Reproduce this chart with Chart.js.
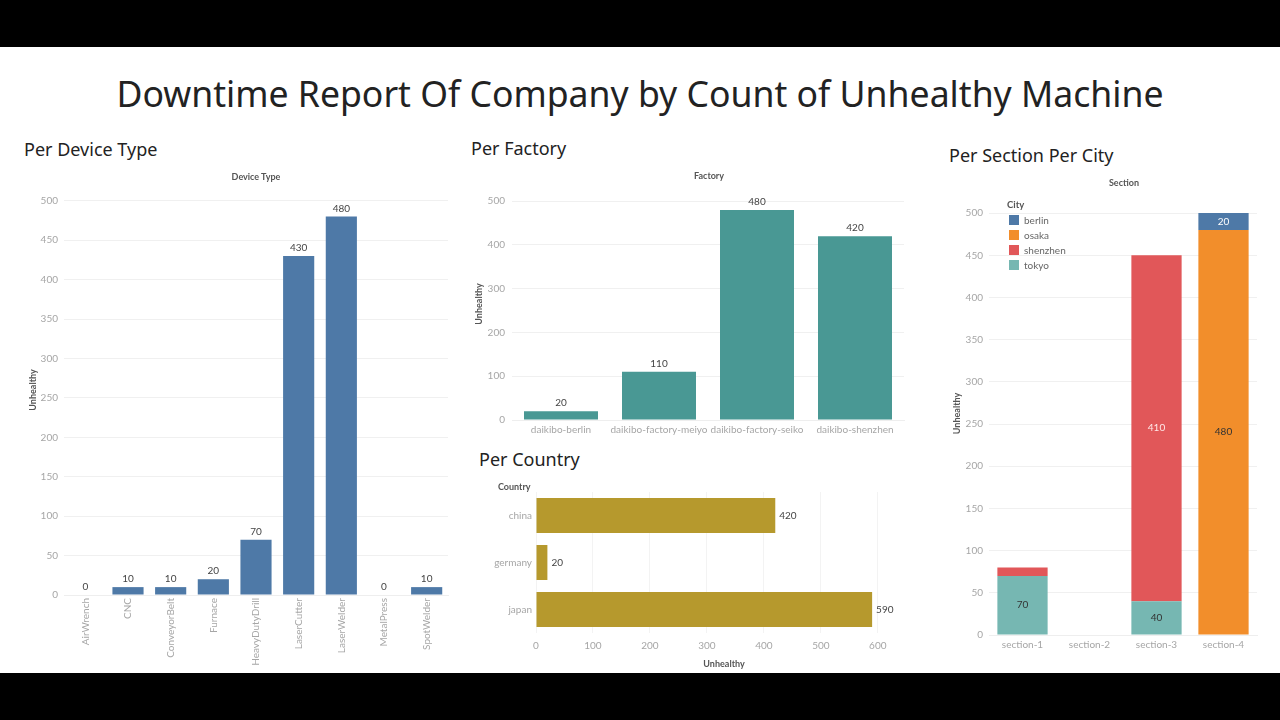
<!DOCTYPE html>
<html lang="en">
<head>
<meta charset="UTF-8">
<title>Downtime Report</title>
<script src="https://cdn.jsdelivr.net/npm/chart.js"></script>
<style>
  html, body { margin: 0; padding: 0; }
  body { width: 1280px; height: 720px; position: relative; background: #fff; overflow: hidden; font-family: Lato, sans-serif; }
  .bar { position: absolute; left: 0; width: 1280px; height: 47px; background: #000; }
  .abs { position: absolute; white-space: nowrap; }
  .main-title { left: 0; width: 1280px; top: 70px; line-height: 46px; text-align: center; font-family: "Noto Sans", sans-serif; font-size: 35.6px; color: #222; }
  .sub { font-family: "Noto Sans", sans-serif; font-size: 18px; color: #222; line-height: 24px; }
  .hdr { font-size: 9px; color: #555; font-weight: bold; line-height: 12px; }
  canvas { position: absolute; }
  .legend-item { position: absolute; font-size: 10px; color: #666; line-height: 12px; }
  .legend-item span { display: inline-block; width: 10px; height: 10px; vertical-align: -1px; margin-right: 5px; }
</style>
</head>
<body>
<div class="bar" style="top:0"></div>
<div class="bar" style="top:673px"></div>

<div class="abs main-title">Downtime Report Of Company by Count of Unhealthy Machine</div>

<div class="abs sub" style="left:24px;top:137px">Per Device Type</div>
<div class="abs sub" style="left:471px;top:136px">Per Factory</div>
<div class="abs sub" style="left:479px;top:447px">Per Country</div>
<div class="abs sub" style="left:949px;top:143px">Per Section Per City</div>

<canvas id="deviceChart" width="440" height="500" style="left:20px;top:170px"></canvas>
<canvas id="factoryChart" width="445" height="265" style="left:470px;top:175px"></canvas>
<canvas id="countryChart" width="445" height="193" style="left:475px;top:480px"></canvas>
<canvas id="sectionChart" width="330" height="475" style="left:940px;top:180px"></canvas>

<div class="abs hdr" style="left:206px;width:100px;text-align:center;top:171px">Device Type</div>
<div class="abs hdr" style="left:659px;width:100px;text-align:center;top:170px">Factory</div>
<div class="abs hdr" style="left:498px;top:481px">Country</div>
<div class="abs hdr" style="left:1074px;width:100px;text-align:center;top:177px">Section</div>

<div id="cityLegend"></div>

<script>
// data
const deviceTypes = ['AirWrench', 'CNC', 'ConveyorBelt', 'Furnace', 'HeavyDutyDrill', 'LaserCutter', 'LaserWelder', 'MetalPress', 'SpotWelder'];
const deviceUnhealthy = [0, 10, 10, 20, 70, 430, 480, 0, 10];

const factories = ['daikibo-berlin', 'daikibo-factory-meiyo', 'daikibo-factory-seiko', 'daikibo-shenzhen'];
const factoryUnhealthy = [20, 110, 480, 420];

const countries = ['china', 'germany', 'japan'];
const countryUnhealthy = [420, 20, 590];

const sections = ['section-1', 'section-2', 'section-3', 'section-4'];
const cities = ['berlin', 'osaka', 'shenzhen', 'tokyo'];
const berlinBySection = [null, null, null, 20];
const osakaBySection = [null, null, null, 480];
const shenzhenBySection = [10, null, 410, null];
const tokyoBySection = [70, null, 40, null];

// colours
const cityColors = { berlin: '#4e79a7', osaka: '#f28e2b', shenzhen: '#e15759', tokyo: '#76b7b2' };
const cityLabelColors = { berlin: '#ffffff', osaka: '#333333', shenzhen: '#ffe8e8', tokyo: '#333333' };

const tickFont = { family: 'Lato', size: 10 };
const tickColor = '#a6a6a6';
const gridColor = '#f0f0f0';
const axisTitle = { family: 'Lato', size: 9, weight: 'bold' };

// draws the value text on the bars
function valueLabels(mode) {
    return {
        id: 'valueLabels',
        afterDatasetsDraw(chart) {
            const ctx = chart.ctx;
            ctx.save();
            ctx.font = '10px Lato';
            chart.data.datasets.forEach((ds, di) => {
                const meta = chart.getDatasetMeta(di);
                meta.data.forEach((bar, i) => {
                    const v = ds.data[i];
                    if (v === null || v === undefined) return;
                    if (mode === 'top') {
                        ctx.fillStyle = '#444';
                        ctx.textAlign = 'center';
                        ctx.textBaseline = 'bottom';
                        ctx.fillText(v, bar.x, bar.y - 3);
                    } else if (mode === 'right') {
                        ctx.fillStyle = '#444';
                        ctx.textAlign = 'left';
                        ctx.textBaseline = 'middle';
                        ctx.fillText(v, bar.x + 4, bar.y);
                    } else {
                        if (Math.abs(bar.base - bar.y) < 14) return;
                        ctx.fillStyle = ds.labelColor;
                        ctx.textAlign = 'center';
                        ctx.textBaseline = 'middle';
                        ctx.fillText(v, bar.x, (bar.y + bar.base) / 2);
                    }
                });
            });
            ctx.restore();
        }
    };
}

function onlySteps(step) {
    return function (axis) {
        axis.ticks = axis.ticks.filter(t => t.value % step === 0);
    };
}

function yAxis(max, step, width, titlePad, tickPad) {
    return {
        min: 0, max: max,
        afterBuildTicks: onlySteps(step),
        afterFit(scale) { scale.width = width; },
        ticks: { stepSize: step, font: tickFont, color: tickColor, padding: tickPad },
        grid: { color: gridColor, drawTicks: false },
        border: { display: false },
        title: { display: true, text: 'Unhealthy', font: axisTitle, color: '#555', padding: { top: titlePad, bottom: 0 } }
    };
}

// Per Device Type
new Chart(document.getElementById('deviceChart'), {
    type: 'bar',
    data: {
        labels: deviceTypes,
        datasets: [{ data: deviceUnhealthy, backgroundColor: '#4e79a7', categoryPercentage: 1, barPercentage: 0.73 }]
    },
    options: {
        responsive: false, animation: false,
        layout: { padding: { top: 15, right: 12, left: 0, bottom: 0 } },
        plugins: { legend: { display: false }, tooltip: { enabled: false } },
        scales: {
            x: {
                afterFit(scale) { scale.height = 75; },
                ticks: { font: tickFont, color: tickColor, minRotation: 90, maxRotation: 90, padding: 3, autoSkip: false },
                grid: { display: false, drawTicks: false },
                border: { color: '#eeeeee' }
            },
            y: yAxis(520, 50, 44, 8, 6)
        }
    },
    plugins: [valueLabels('top')]
});

// Per Factory
new Chart(document.getElementById('factoryChart'), {
    type: 'bar',
    data: {
        labels: factories,
        datasets: [{ data: factoryUnhealthy, backgroundColor: '#499894', categoryPercentage: 1, barPercentage: 0.755 }]
    },
    options: {
        responsive: false, animation: false,
        layout: { padding: { top: 12, right: 11, left: 0, bottom: 0 } },
        plugins: { legend: { display: false }, tooltip: { enabled: false } },
        scales: {
            x: {
                afterFit(scale) { scale.height = 20; },
                ticks: { font: tickFont, color: tickColor, minRotation: 0, maxRotation: 0, padding: 4, autoSkip: false },
                grid: { display: false, drawTicks: false },
                border: { color: '#eeeeee' }
            },
            y: yAxis(530, 100, 42, 4, 7)
        }
    },
    plugins: [valueLabels('top')]
});

// Per Country
new Chart(document.getElementById('countryChart'), {
    type: 'bar',
    data: {
        labels: countries,
        datasets: [{ data: countryUnhealthy, backgroundColor: '#b6992d', categoryPercentage: 1, barPercentage: 0.745 }]
    },
    options: {
        indexAxis: 'y',
        responsive: false, animation: false,
        layout: { padding: { top: 12, right: 8, left: 0, bottom: 0 } },
        plugins: { legend: { display: false }, tooltip: { enabled: false } },
        scales: {
            x: {
                min: 0, max: 660,
                afterBuildTicks: onlySteps(100),
                afterFit(scale) { scale.height = 40; },
                ticks: { stepSize: 100, font: tickFont, color: tickColor, padding: 7 },
                grid: { color: '#f3f3f3', drawTicks: false },
                border: { display: false },
                title: { display: true, text: 'Unhealthy', font: axisTitle, color: '#555', padding: { top: 0, bottom: 4 } }
            },
            y: {
                afterFit(scale) { scale.width = 61; },
                ticks: { font: tickFont, color: tickColor, padding: 4 },
                grid: { display: false, drawTicks: false },
                border: { display: false }
            }
        }
    },
    plugins: [valueLabels('right')]
});

// Per Section Per City (stacked)
const cityData = { berlin: berlinBySection, osaka: osakaBySection, shenzhen: shenzhenBySection, tokyo: tokyoBySection };
const stackOrder = ['tokyo', 'shenzhen', 'osaka', 'berlin'];
new Chart(document.getElementById('sectionChart'), {
    type: 'bar',
    data: {
        labels: sections,
        datasets: stackOrder.map(c => ({
            label: c,
            data: cityData[c],
            backgroundColor: cityColors[c],
            labelColor: cityLabelColors[c],
            categoryPercentage: 1,
            barPercentage: 0.75
        }))
    },
    options: {
        responsive: false, animation: false,
        layout: { padding: { top: 11, right: 13, left: 0, bottom: 0 } },
        plugins: { legend: { display: false }, tooltip: { enabled: false } },
        scales: {
            x: {
                stacked: true,
                afterFit(scale) { scale.height = 20; },
                ticks: { font: tickFont, color: tickColor, maxRotation: 0, padding: 4 },
                grid: { display: false, drawTicks: false },
                border: { color: '#eeeeee' }
            },
            y: Object.assign(yAxis(525, 50, 49, 12, 6), { stacked: true })
        }
    },
    plugins: [valueLabels('inside')]
});

// city legend (inside the plot, top-left)
const legend = document.getElementById('cityLegend');
let html = '<div class="abs hdr" style="left:1007px;top:199px;font-size:9.5px">City</div>';
cities.forEach((c, i) => {
    html += '<div class="legend-item" style="left:1009px;top:' + (214 + i * 15) + 'px"><span style="background:' + cityColors[c] + '"></span>' + c + '</div>';
});
legend.innerHTML = html;
</script>
</body>
</html>
